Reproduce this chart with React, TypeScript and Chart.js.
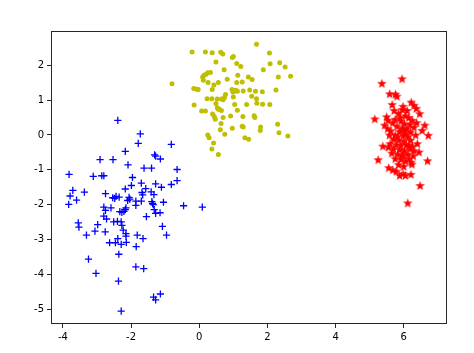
import React, { useEffect, useRef } from "react";
import { Chart, registerables } from "chart.js";

Chart.register(...registerables);

const xTicks = [-4, -2, 0, 2, 4, 6];
const yTicks = [-5, -4, -3, -2, -1, 0, 1, 2];
const xRange = [-4.35, 7.27];
const yRange = [-5.42, 2.98];

const blueX = [-2.39, -1.73, -1.79, -0.82, -2.17, -1.31, -1.28, -1.14, -2.91, -2.53, -2.09, -1.62, -1.4, -0.65, -3.82, -3.11, -2.86, -2.8, -1.96, -0.65, -0.82, -1.28, -1.11, -1.7, -1.99, -3.71, -3.37, -2.75, -2.17, -1.57, -1.41, -1.68, -1.66, -1.33, -3.79, -3.6, -3.83, -2.44, -2.54, -2.48, -2.35, -2.06, -2.04, -2.1, -1.86, -1.7, -1.39, -1.37, -1.35, -1.05, -0.46, 0.09, -2.8, -2.75, -2.59, -1.86, -2.15, -2.21, -2.27, -2.17, -2.33, -1.32, -1.28, -1.15, -1.55, -2.8, -2.72, -3.55, -3.53, -2.98, -2.51, -2.4, -2.29, -2.27, -2.23, -2.15, -1.08, -3.06, -2.76, -3.31, -2.15, -1.82, -1.65, -0.96, -2.39, -2.63, -2.46, -2.29, -2.14, -1.85, -3.25, -2.36, -3.03, -1.86, -1.63, -2.37, -1.34, -1.28, -1.14, -2.29];
const blueY = [0.42, 0.03, -0.24, -0.27, -0.47, -0.57, -0.61, -0.69, -0.71, -0.71, -0.86, -0.95, -0.95, -0.99, -1.13, -1.19, -1.17, -1.17, -1.22, -1.31, -1.42, -1.4, -1.5, -1.38, -1.45, -1.59, -1.64, -1.68, -1.55, -1.54, -1.63, -1.65, -1.72, -1.71, -1.75, -1.87, -1.99, -1.76, -1.8, -1.82, -1.78, -1.79, -1.84, -1.88, -1.9, -1.9, -1.91, -1.96, -2.0, -1.93, -2.03, -2.07, -2.07, -2.16, -2.09, -2.02, -2.09, -2.19, -2.22, -2.14, -2.2, -2.14, -2.25, -2.23, -2.34, -2.33, -2.41, -2.52, -2.64, -2.57, -2.49, -2.48, -2.49, -2.59, -2.73, -2.83, -2.62, -2.76, -2.78, -2.87, -2.9, -2.87, -2.97, -2.87, -2.97, -3.09, -3.09, -3.14, -3.08, -3.2, -3.56, -3.42, -3.97, -3.78, -3.83, -4.19, -4.65, -4.73, -4.56, -5.05];

const yellowX = [1.68, -0.21, 0.18, 0.38, 0.63, 0.69, 1.0, 0.97, 2.06, 0.49, 1.1, 1.22, 2.08, 2.36, 2.52, 0.73, 1.88, 0.14, 0.1, 0.12, 0.2, 0.25, 0.33, 1.13, 1.44, 1.55, 2.68, 2.32, -0.8, 0.82, 0.56, 0.26, 1.1, 1.26, 0.43, -0.16, -0.08, -0.03, 0.38, 0.96, 1.02, 1.07, 1.12, 0.99, 1.29, 1.48, 1.65, 1.85, 2.25, 0.77, 0.74, 0.7, 0.23, 0.37, 0.53, 0.65, 1.0, 1.54, 1.68, 0.49, -0.15, 1.04, 1.39, 1.69, 1.86, 2.07, 0.53, 0.59, 0.65, 0.56, 0.07, 0.18, 1.12, 0.39, 0.44, 0.47, 0.7, 0.92, 1.28, 1.61, 1.63, 0.64, 0.97, 1.26, 1.29, 1.8, 1.79, 2.3, 0.62, 0.75, 0.25, 0.29, 1.34, 1.45, 2.34, 2.6, 0.42, 0.37, 0.56];
const yellowY = [2.6, 2.38, 2.38, 2.36, 2.37, 2.32, 2.25, 2.22, 2.35, 2.09, 2.05, 1.96, 2.04, 2.07, 1.95, 1.87, 1.87, 1.71, 1.66, 1.57, 1.74, 1.78, 1.79, 1.71, 1.66, 1.59, 1.68, 1.66, 1.47, 1.6, 1.5, 1.5, 1.5, 1.52, 1.43, 1.33, 1.31, 1.3, 1.3, 1.3, 1.26, 1.28, 1.25, 1.23, 1.26, 1.29, 1.25, 1.24, 1.29, 1.16, 1.07, 1.01, 1.04, 1.04, 1.03, 1.03, 1.09, 1.11, 1.04, 0.9, 0.86, 0.87, 0.87, 0.91, 0.88, 0.87, 0.78, 0.74, 0.7, 0.74, 0.69, 0.69, 0.71, 0.6, 0.53, 0.45, 0.5, 0.54, 0.53, 0.55, 0.5, 0.33, 0.19, 0.25, 0.23, 0.23, 0.13, 0.31, 0.15, 0.02, 0.0, -0.08, -0.08, -0.12, 0.06, -0.03, -0.23, -0.4, -0.56];

const redX = [5.95, 5.36, 5.59, 5.76, 5.8, 6.22, 6.3, 6.37, 5.66, 5.98, 5.96, 6.47, 5.15, 5.5, 5.54, 6.62, 5.44, 5.53, 6.54, 6.72, 5.39, 6.45, 5.25, 6.7, 5.56, 5.68, 5.78, 5.98, 6.05, 6.24, 6.21, 5.88, 6.48, 6.12, 5.85, 6.05, 6.15, 5.75, 5.92, 6.25, 5.68, 6.02, 6.18, 5.8, 5.95, 6.1, 6.3, 5.62, 5.88, 6.05, 6.2, 5.75, 5.98, 6.12, 6.35, 5.7, 5.85, 6.0, 6.2, 5.6, 5.78, 5.92, 6.08, 6.25, 6.4, 5.55, 5.7, 5.88, 6.02, 6.18, 6.3, 5.65, 5.82, 5.97, 6.12, 6.28, 5.75, 5.92, 6.05, 6.15, 5.85, 6.0, 5.72, 6.1, 5.9, 6.0, 5.82, 6.15, 5.95, 6.38, 5.58, 6.22];
const redY = [1.61, 1.48, 1.18, 1.17, 1.11, 0.94, 0.85, 0.76, 0.87, 0.82, 0.73, 0.61, 0.46, 0.52, 0.42, 0.28, 0.28, 0.18, 0.13, -0.01, -0.32, -0.49, -0.71, -0.74, -0.94, -1.0, -1.04, -1.11, -1.16, -0.84, -1.13, -1.16, -1.45, -1.95, 0.62, 0.55, 0.5, 0.45, 0.4, 0.42, 0.35, 0.32, 0.3, 0.25, 0.2, 0.18, 0.22, 0.12, 0.1, 0.05, 0.08, 0.0, -0.02, -0.05, 0.0, -0.12, -0.15, -0.18, -0.15, -0.25, -0.28, -0.3, -0.28, -0.32, -0.25, -0.35, -0.4, -0.42, -0.45, -0.4, -0.45, -0.52, -0.55, -0.58, -0.55, -0.6, -0.68, -0.7, -0.75, -0.68, -0.85, -0.9, 0.7, 0.7, 0.5, 0.15, -0.05, -0.3, -0.6, 0.35, 0.0, -0.78];

function pts(xs: number[], ys: number[]) {
  return xs.map((x, i) => ({ x, y: ys[i] }));
}

function makeStar(color: string) {
  const c = document.createElement("canvas");
  const s = 11;
  c.width = s;
  c.height = s;
  const ctx = c.getContext("2d")!;
  ctx.fillStyle = color;
  ctx.beginPath();
  const R = 5, r = 2.1;
  for (let i = 0; i < 10; i++) {
    const rad = i % 2 === 0 ? R : r;
    const a = -Math.PI / 2 + (i * Math.PI) / 5;
    const px = s / 2 + rad * Math.cos(a);
    const py = s / 2 + 0.4 + rad * Math.sin(a);
    if (i === 0) ctx.moveTo(px, py);
    else ctx.lineTo(px, py);
  }
  ctx.closePath();
  ctx.fill();
  return c;
}

const framePlugin = {
  id: "frame",
  afterDraw(chart: any) {
    const { ctx, chartArea } = chart;
    ctx.save();
    ctx.strokeStyle = "#262626";
    ctx.lineWidth = 1;
    ctx.strokeRect(
      Math.round(chartArea.left) + 0.5,
      Math.round(chartArea.top) + 0.5,
      Math.round(chartArea.right - chartArea.left) - 1,
      Math.round(chartArea.bottom - chartArea.top) - 1
    );
    ctx.restore();
  },
};

export default function App() {
  const ref = useRef<HTMLCanvasElement>(null);
  useEffect(() => {
    const star = makeStar("#ff0000");
    const tickFont = { family: "DejaVu Sans", size: 10 };
    const chart = new Chart(ref.current!, {
      type: "scatter",
      data: {
        datasets: [
          {
            data: pts(blueX, blueY),
            pointStyle: "cross",
            pointRadius: 3.6,
            pointBorderWidth: 1.3,
            borderColor: "#0000ff",
            backgroundColor: "#0000ff",
          },
          {
            data: pts(yellowX, yellowY),
            pointStyle: "circle",
            pointRadius: 2.5,
            pointBorderWidth: 0,
            borderColor: "#bfbf00",
            backgroundColor: "#bfbf00",
          },
          {
            data: pts(redX, redY),
            pointStyle: star as any,
            pointRadius: 5,
            borderColor: "#ff0000",
            backgroundColor: "#ff0000",
          },
        ],
      },
      options: {
        animation: false,
        responsive: false,
        events: [],
        layout: { padding: { left: 0, top: 31, right: 27, bottom: 0 } },
        plugins: { legend: { display: false }, tooltip: { enabled: false } },
        scales: {
          x: {
            type: "linear",
            min: xRange[0],
            max: xRange[1],
            afterBuildTicks: (s: any) => {
              s.ticks = xTicks.map((v) => ({ value: v }));
            },
            afterFit: (s: any) => {
              s.height = 29;
            },
            grid: { display: true, drawOnChartArea: false, drawTicks: true, tickLength: 4, color: "#262626" },
            border: { display: false },
            ticks: { color: "#000", font: tickFont, padding: 3, maxRotation: 0 },
          },
          y: {
            type: "linear",
            min: yRange[0],
            max: yRange[1],
            afterBuildTicks: (s: any) => {
              s.ticks = yTicks.map((v) => ({ value: v }));
            },
            afterFit: (s: any) => {
              s.width = 51;
            },
            grid: { display: true, drawOnChartArea: false, drawTicks: true, tickLength: 4, color: "#262626" },
            border: { display: false },
            ticks: { color: "#000", font: tickFont, padding: 3 },
          },
        },
      },
      plugins: [framePlugin],
    });
    return () => chart.destroy();
  }, []);
  return (
    <div style={{ position: "absolute", left: 0, top: 0, width: 474, height: 353, background: "#fff" }}>
      <canvas ref={ref} width={474} height={353} style={{ display: "block" }} />
    </div>
  );
}
